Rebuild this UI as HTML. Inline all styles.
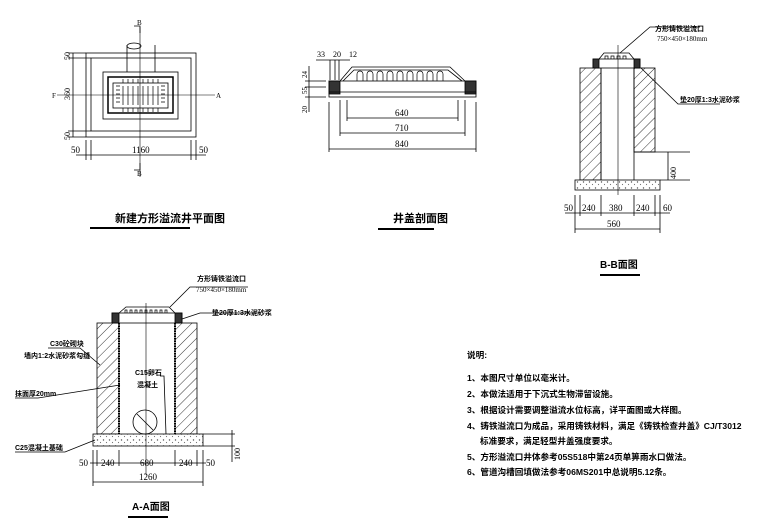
<!DOCTYPE html>
<html><head><meta charset="utf-8"><style>
html,body{margin:0;padding:0;background:#fff;}
svg{display:block;}
text{font-family:"Liberation Serif","Noto Serif CJK SC",serif;fill:#000;}
.c{font-family:"Liberation Sans","Noto Sans CJK SC",sans-serif;font-weight:bold;}
</style></head><body>
<svg width="760" height="531" viewBox="0 0 760 531" xmlns="http://www.w3.org/2000/svg">
<defs>
<pattern id="h" width="7" height="7" patternUnits="userSpaceOnUse" patternTransform="rotate(45)">
<line x1="0" y1="0" x2="0" y2="7" stroke="#000" stroke-width="0.8"/></pattern>
<pattern id="d" width="6" height="6" patternUnits="userSpaceOnUse">
<rect width="6" height="6" fill="#fff"/><circle cx="1.5" cy="2" r="0.7" fill="#555"/><circle cx="4.5" cy="4.5" r="0.6" fill="#777"/></pattern>
</defs>
<g fill="none" stroke="#000" stroke-width="0.8">
<rect x="86" y="53" width="110" height="84"/>
<rect x="91" y="58" width="100" height="73"/>
<rect x="103" y="72" width="75" height="47"/>
<rect x="108" y="77" width="65" height="36" stroke-width="1.5"/>
<rect x="113" y="83" width="55" height="25"/>
<line x1="127" y1="45" x2="127" y2="72"/><line x1="155" y1="45" x2="155" y2="72"/>
<ellipse cx="134" cy="46" rx="7" ry="3"/>
<line x1="140" y1="27" x2="140" y2="177" stroke-width="0.6"/>
<line x1="57" y1="95" x2="215" y2="95" stroke-width="0.6"/>
<line x1="76" y1="155" x2="206" y2="155"/>
<line x1="86" y1="140" x2="86" y2="160"/><line x1="91" y1="140" x2="91" y2="160"/>
<line x1="191" y1="140" x2="191" y2="160"/><line x1="196" y1="140" x2="196" y2="160"/>
<line x1="73" y1="53" x2="73" y2="137"/>
<line x1="68" y1="53" x2="86" y2="53"/><line x1="68" y1="58" x2="91" y2="58"/>
<line x1="68" y1="131" x2="91" y2="131"/><line x1="68" y1="137" x2="86" y2="137"/>
<polyline points="134,26 140,26 140,33"/><polyline points="134,170 140,170 140,163"/>
<line x1="90" y1="228" x2="190" y2="228" stroke-width="2"/>
<rect x="329" y="81" width="147" height="16"/>
<rect x="329" y="81" width="11" height="13" fill="#333"/>
<rect x="465" y="81" width="11" height="13" fill="#333"/>
<polyline points="340,81 352,67 450,67 465,81"/>
<polyline points="343,81 354,70 448,70 462,81"/>
<line x1="329" y1="92" x2="476" y2="92"/>
<line x1="329" y1="102" x2="329" y2="152"/><line x1="476" y1="102" x2="476" y2="152"/>
<line x1="340" y1="100" x2="340" y2="136"/><line x1="465" y1="100" x2="465" y2="136"/>
<line x1="347" y1="100" x2="347" y2="121"/><line x1="458" y1="100" x2="458" y2="121"/>
<line x1="347" y1="118" x2="458" y2="118"/><line x1="340" y1="133" x2="465" y2="133"/><line x1="329" y1="149" x2="476" y2="149"/>
<line x1="316" y1="60" x2="350" y2="60"/>
<line x1="330" y1="60" x2="330" y2="80"/><line x1="335" y1="60" x2="335" y2="80"/><line x1="339" y1="60" x2="339" y2="80"/>
<line x1="309" y1="66" x2="309" y2="112"/>
<line x1="305" y1="81" x2="326" y2="81"/><line x1="305" y1="87" x2="326" y2="87"/><line x1="305" y1="97" x2="326" y2="97"/>
<line x1="378" y1="229" x2="434" y2="229" stroke-width="2"/>
<rect x="580" y="68" width="21" height="112" fill="url(#h)"/>
<rect x="634" y="68" width="21" height="84" fill="url(#h)"/>
<line x1="601" y1="68" x2="601" y2="180"/><line x1="634" y1="68" x2="634" y2="180"/>
<line x1="634" y1="152" x2="690" y2="152"/><line x1="660" y1="180" x2="690" y2="180"/>
<rect x="575" y="180" width="85" height="10" fill="url(#d)"/>
<rect x="593" y="59" width="47" height="9" fill="#fff"/>
<rect x="593" y="59" width="6" height="9" fill="#333"/><rect x="634" y="59" width="6" height="9" fill="#333"/>
<polyline points="599,59 604,53 629,53 634,59"/>
<line x1="618" y1="45" x2="618" y2="195" stroke-width="0.6"/>
<polyline points="620,53 650,27 700,27"/>
<polyline points="641,68 678,104 720,104"/>
<line x1="668" y1="152" x2="668" y2="180"/>
<line x1="565" y1="213" x2="670" y2="213"/><line x1="575" y1="229" x2="660" y2="229"/>
<line x1="575" y1="195" x2="575" y2="233"/><line x1="660" y1="195" x2="660" y2="233"/>
<line x1="580" y1="195" x2="580" y2="216"/><line x1="601" y1="195" x2="601" y2="216"/>
<line x1="634" y1="195" x2="634" y2="216"/><line x1="655" y1="195" x2="655" y2="216"/>
<line x1="600" y1="275" x2="640" y2="275" stroke-width="2"/>
<rect x="97" y="323" width="22" height="111" fill="url(#h)"/>
<rect x="175" y="323" width="22" height="111" fill="url(#h)"/>
<line x1="119" y1="323" x2="119" y2="434" stroke-width="2" stroke-dasharray="1.5,1"/>
<line x1="175" y1="323" x2="175" y2="434" stroke-width="2" stroke-dasharray="1.5,1"/>
<rect x="93" y="434" width="110" height="12" fill="url(#d)"/>
<rect x="112" y="313" width="70" height="10" fill="#fff"/>
<rect x="112" y="313" width="7" height="10" fill="#333"/><rect x="175" y="313" width="7" height="10" fill="#333"/>
<polyline points="119,313 126,307 169,307 175,313"/>
<line x1="146" y1="303" x2="146" y2="475" stroke-width="0.6"/>
<circle cx="145" cy="422" r="12"/>
<line x1="137" y1="414" x2="153" y2="430"/>
<polyline points="170,307 190,287 248,287"/>
<polyline points="182,319 200,313 260,313"/>
<polyline points="48,348 80,348 100,365"/>
<polyline points="15,398 38,398 120,385"/>
<polyline points="15,452 65,452 95,440"/>
<polyline points="160,376 164,376 166,434"/>
<line x1="203" y1="434" x2="235" y2="434"/><line x1="203" y1="446" x2="235" y2="446"/>
<line x1="232" y1="430" x2="232" y2="462"/>
<line x1="90" y1="463" x2="206" y2="463"/><line x1="93" y1="482" x2="203" y2="482"/>
<line x1="93" y1="450" x2="93" y2="486"/><line x1="203" y1="450" x2="203" y2="486"/>
<line x1="97" y1="450" x2="97" y2="466"/><line x1="119" y1="450" x2="119" y2="466"/>
<line x1="175" y1="450" x2="175" y2="466"/><line x1="197" y1="450" x2="197" y2="466"/>
<line x1="128" y1="517" x2="168" y2="517" stroke-width="2"/>
</g>
<g fill="none" stroke="#000" stroke-width="0.7">
<path d="M357,81 v-7 a3,3 0 0 1 6,0 v7 M367,81 v-7 a3,3 0 0 1 6,0 v7 M377,81 v-7 a3,3 0 0 1 6,0 v7 M387,81 v-7 a3,3 0 0 1 6,0 v7 M397,81 v-7 a3,3 0 0 1 6,0 v7 M407,81 v-7 a3,3 0 0 1 6,0 v7 M417,81 v-7 a3,3 0 0 1 6,0 v7 M427,81 v-7 a3,3 0 0 1 6,0 v7 M437,81 v-7 a3,3 0 0 1 6,0 v7"/>
<path d="M605,59 v-3 h3 v3 M611,59 v-3 h3 v3 M617,59 v-3 h3 v3 M623,59 v-3 h3 v3"/>
<path d="M125,313 v-3 h2 v3 M130,313 v-3 h2 v3 M135,313 v-3 h2 v3 M140,313 v-3 h2 v3 M145,313 v-3 h2 v3 M150,313 v-3 h2 v3 M155,313 v-3 h2 v3 M160,313 v-3 h2 v3 M165,313 v-3 h2 v3"/>
<path d="M116,86 h4 M116,90 h4 M116,94 h4 M116,98 h4 M116,102 h4 M161,86 h4 M161,90 h4 M161,94 h4 M161,98 h4 M161,102 h4"/>
<path d="M123,79 v4 M128,79 v4 M133,79 v4 M138,79 v4 M143,79 v4 M148,79 v4 M153,79 v4 M158,79 v4 M123,108 v4 M128,108 v4 M133,108 v4 M138,108 v4 M143,108 v4 M148,108 v4 M153,108 v4 M158,108 v4"/>
<path d="M123,86 v19 M128,86 v19 M133,86 v19 M138,86 v19 M143,86 v19 M148,86 v19 M153,86 v19 M158,86 v19"/>
</g>
<g font-size="9">
<text x="132" y="153" font-size="9">1160</text>
<text x="71" y="153">50</text><text x="199" y="153">50</text>
<text x="137" y="25" font-size="7">B</text><text x="137" y="176" font-size="7">B</text>
<text x="216" y="98" font-size="7">A</text><text x="52" y="98" font-size="7">F</text>
<text transform="translate(70,100) rotate(-90)" font-size="8">360</text>
<text transform="translate(70,60) rotate(-90)" font-size="8">50</text>
<text transform="translate(70,140) rotate(-90)" font-size="8">50</text>
<text x="115" y="222" class="c" font-size="11">新建方形溢流井平面图</text>
<text x="317" y="57" font-size="8">33</text><text x="333" y="57" font-size="8">20</text><text x="349" y="57" font-size="8">12</text>
<text transform="translate(307,78) rotate(-90)" font-size="7">24</text>
<text transform="translate(307,94) rotate(-90)" font-size="7">55</text>
<text transform="translate(307,113) rotate(-90)" font-size="7">20</text>
<text x="395" y="116">640</text><text x="395" y="131">710</text><text x="395" y="147">840</text>
<text x="393" y="222" class="c" font-size="11">井盖剖面图</text>
<text x="655" y="31" class="c" font-size="7">方形铸铁溢流口</text>
<text x="657" y="41" font-size="7">750×450×180mm</text>
<text x="680" y="102" class="c" font-size="7">垫20厚1:3水泥砂浆</text>
<text transform="translate(676,179) rotate(-90)" font-size="8">400</text>
<text x="564" y="211">50</text><text x="582" y="211">240</text><text x="609" y="211">380</text><text x="636" y="211">240</text><text x="663" y="211">60</text>
<text x="607" y="227">560</text>
<text x="600" y="268" class="c" font-size="10">B-B面图</text>
<text x="197" y="281" class="c" font-size="7">方形铸铁溢流口</text>
<text x="196" y="292" font-size="7">750×450×180mm</text>
<text x="212" y="315" class="c" font-size="7">垫20厚1:3水泥砂浆</text>
<text x="50" y="346" class="c" font-size="7">C30砼砌块</text>
<text x="24" y="358" class="c" font-size="7">墙内1:2水泥砂浆勾缝</text>
<text x="15" y="396" class="c" font-size="7">抹面厚20mm</text>
<text x="135" y="375" class="c" font-size="7">C15卵石</text>
<text x="137" y="387" class="c" font-size="7">混凝土</text>
<text x="15" y="450" class="c" font-size="7">C25混凝土基础</text>
<text transform="translate(240,460) rotate(-90)" font-size="8">100</text>
<text x="79" y="466">50</text><text x="101" y="466">240</text><text x="140" y="466">680</text><text x="179" y="466">240</text><text x="206" y="466">50</text>
<text x="139" y="480">1260</text>
<text x="132" y="510" class="c" font-size="10">A-A面图</text>
</g>
<g class="c" font-size="8.6">
<text x="467" y="358" class="c">说明:</text>
<text x="467" y="381" class="c">1、本图尺寸单位以毫米计。</text>
<text x="467" y="397" class="c">2、本做法适用于下沉式生物滞留设施。</text>
<text x="467" y="413" class="c">3、根据设计需要调整溢流水位标高，详平面图或大样图。</text>
<text x="467" y="429" class="c">4、铸铁溢流口为成品，采用铸铁材料，满足《铸铁检查井盖》CJ/T3012</text>
<text x="480" y="444" class="c">标准要求，满足轻型井盖强度要求。</text>
<text x="467" y="460" class="c">5、方形溢流口井体参考05S518中第24页单箅雨水口做法。</text>
<text x="467" y="475" class="c">6、管道沟槽回填做法参考06MS201中总说明5.12条。</text>
</g>
</svg>
</body></html>
